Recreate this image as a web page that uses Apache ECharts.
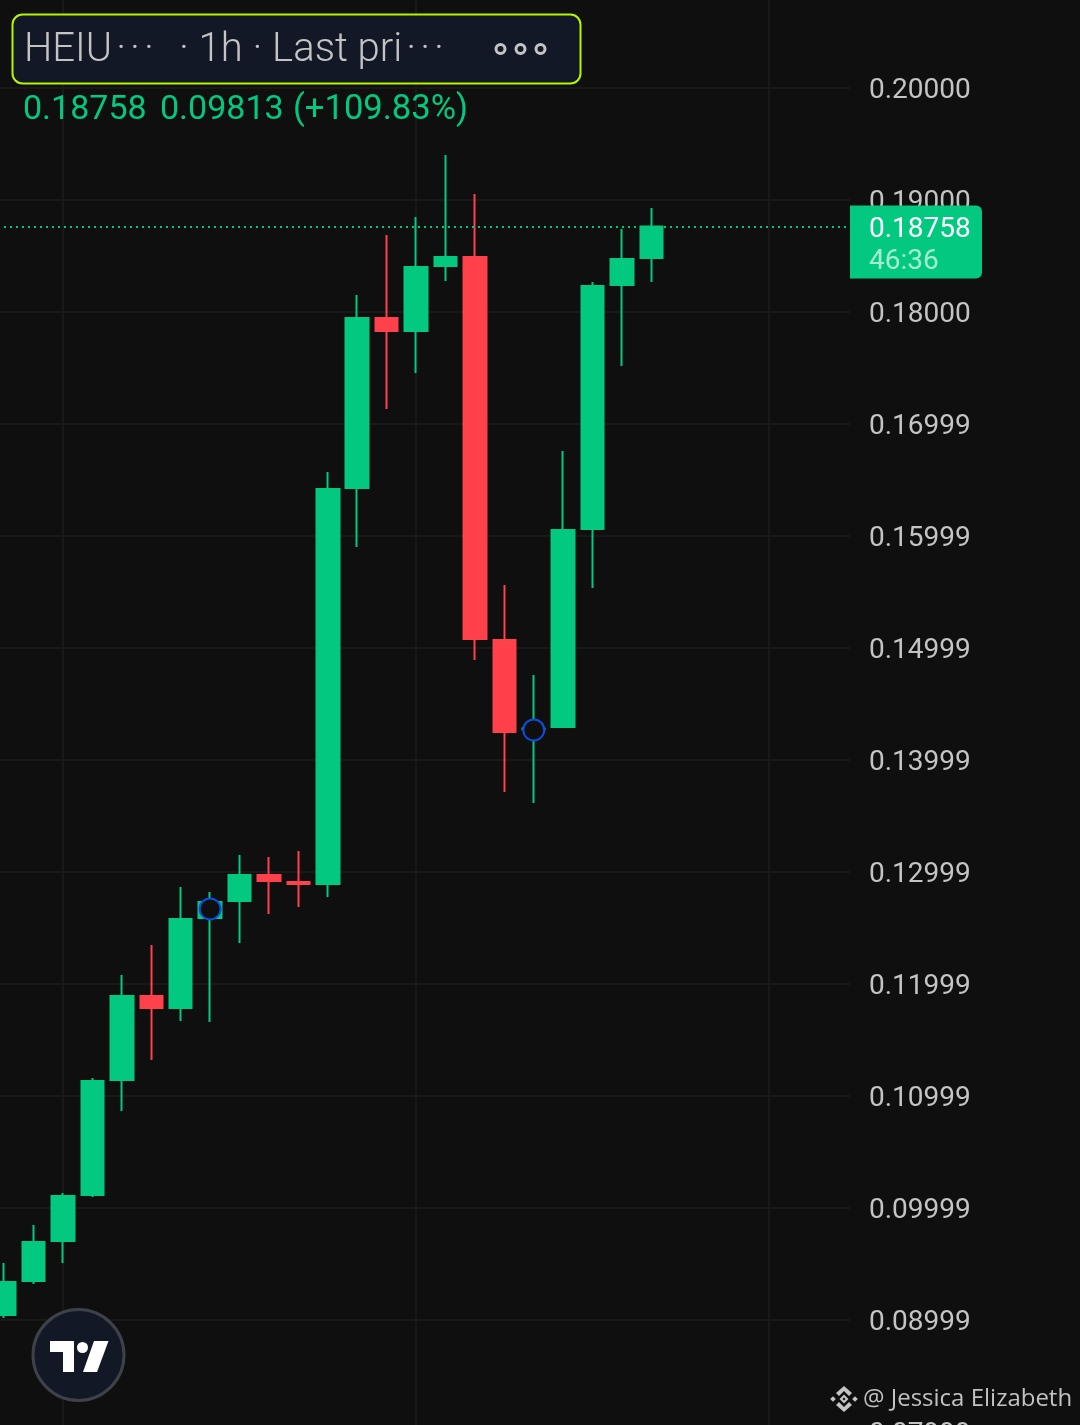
<!DOCTYPE html>
<html>
<head>
<meta charset="utf-8">
<style>html,body{margin:0;padding:0;background:#0f0f0f}#c{width:1080px;height:1425px}</style>
<script src="https://cdn.jsdelivr.net/npm/echarts@6/dist/echarts.min.js"></script>
</head>
<body>
<div id="c"></div>
<script>
const hours = [10,11,12,13,14,15,16,17,18,19,20,21,22,23,24,25,26,27,28,29,30,31,32];
const opens  = [.09040,.09344,.09701,.10112,.11138,.11888,.11781,.12585,.12737,.12969,.12906,.12888,.16424,.17942,.17826,.18406,.18487,.15067,.14269,.14290,.16058,.18237,.18478];
const closes = [.09335,.09692,.10103,.11129,.11888,.11781,.12576,.12728,.12969,.12915,.12888,.16415,.17942,.17826,.18397,.18487,.15076,.14246,.14276,.16049,.18228,.18469,.18758];
const lows   = [.09013,.09317,.09504,.10094,.10862,.11317,.11665,.11656,.12362,.12621,.12683,.12772,.15897,.17129,.17451,.18272,.14888,.13710,.13612,.14281,.15531,.17513,.18263];
const highs  = [.09504,.09844,.10129,.11156,.12076,.12344,.12862,.12817,.13147,.13129,.13183,.16567,.18147,.18683,.18844,.19397,.19049,.15558,.14754,.16754,.18263,.18737,.18924];
const tickValues = [.20,.19,.18,.17,.16,.15,.14,.13,.12,.11,.10,.09,.08];
const tickLabels = ['0.20000','0.19000','0.18000','0.16999','0.15999','0.14999','0.13999','0.12999','0.11999','0.10999','0.09999','0.08999','0.07999'];
const circleHours = [17,28];
const circlePrices = [.12666,.14264];
const lastPrice = 0.18758, countdown = '46:36';
const DOTS='\u200A\u00B7\u200A\u00B7\u200A\u00B7';
const headerTitle = ['HEIU'+DOTS,'\u00B7 1h \u00B7 Last pri'+DOTS];
const headerStats = ['0.18758','0.09813','(+109.83%)'];
const watermark = '@ Jessica Elizabeth';

const UP='#02c97f', DOWN='#ff414c', BG='#0f0f0f', GRID='#191919', TXT='#c4c4c4';
const FONT='Roboto, "Noto Sans", sans-serif';
const chart = echarts.init(document.getElementById('c'), null, {renderer:'canvas'});

function dia(cx,cy,r,fill,z){return {type:'polygon',shape:{points:[[cx,cy-r],[cx+r,cy],[cx,cy+r],[cx-r,cy]]},style:{fill:fill},z:z||20};}

chart.setOption({
  animation:false,
  backgroundColor:BG,
  grid:{left:-290.04,width:1140.04,top:-24.5,height:1568,containLabel:false,outerBoundsMode:'none'},
  xAxis:{type:'value',min:0,max:38.75,interval:12,
    axisLine:{show:false},axisTick:{show:false},axisLabel:{show:false},
    splitLine:{show:true,showMaxLine:false,lineStyle:{color:GRID,width:2}}},
  yAxis:{type:'value',position:'right',min:.07,max:.21,interval:.01,
    axisLine:{show:false},axisTick:{show:false},
    splitLine:{show:true,lineStyle:{color:GRID,width:2}},
    axisLabel:{show:true,margin:19,align:'left',
      showMinLabel:false,showMaxLabel:false,hideOverlap:false,
      rich:{a:{color:TXT,fontFamily:FONT,fontSize:28,lineHeight:34,padding:[6,0,0,0]}},
      formatter:v=>{const i=tickValues.findIndex(t=>Math.abs(t-v)<1e-6);return i>=0?'{a|'+tickLabels[i]+'}':'';}}},
  series:[
    {type:'candlestick',barWidth:23,clip:true,
     encode:{x:0,y:[1,2,3,4]},
     data:hours.map((h,i)=>[h,opens[i],closes[i],lows[i],highs[i]]),
     itemStyle:{color:UP,color0:DOWN,borderColor:UP,borderColor0:DOWN,borderWidth:2},
     markLine:{symbol:'none',silent:true,animation:false,precision:5,
       lineStyle:{color:UP,type:[2,4],width:2},
       label:{show:true,position:'end',distance:0,offset:[0,15.5],align:'left',
         formatter:()=>'{a|'+lastPrice.toFixed(5)+'}\n{b|'+countdown+'}',
         backgroundColor:UP,borderRadius:[0,6,6,0],padding:[8,12,1,19],
         rich:{a:{color:'#ffffff',fontFamily:FONT,fontSize:28,lineHeight:32,width:101},
               b:{color:'#a6ecd1',fontFamily:FONT,fontSize:28,lineHeight:32,width:101}}},
       data:[{yAxis:lastPrice}]}},
    {type:'scatter',symbol:'circle',symbolSize:21,z:10,
     data:circleHours.map((h,i)=>[h,circlePrices[i]]),
     itemStyle:{color:BG,borderColor:'#0a50e0',borderWidth:2,opacity:1}}
  ],
  graphic:[
    {type:'rect',z:20,shape:{x:12.5,y:14.5,width:568,height:69,r:10},style:{fill:'#121826',stroke:'#b6f500',lineWidth:2}},
    {type:'text',z:21,style:{x:24,y:51,text:headerTitle[0],fill:TXT,fontSize:40,fontFamily:FONT,fontWeight:300,textVerticalAlign:'middle'}},
    {type:'text',z:21,style:{x:179,y:51,text:headerTitle[1],fill:TXT,fontSize:40,fontFamily:FONT,fontWeight:300,textVerticalAlign:'middle'}},
    {type:'circle',z:21,shape:{cx:500.5,cy:49,r:4.5},style:{fill:'none',stroke:TXT,lineWidth:3}},
    {type:'circle',z:21,shape:{cx:520.5,cy:49,r:4.5},style:{fill:'none',stroke:TXT,lineWidth:3}},
    {type:'circle',z:21,shape:{cx:540.5,cy:49,r:4.5},style:{fill:'none',stroke:TXT,lineWidth:3}},
    {type:'text',z:21,style:{x:23,y:110,text:headerStats[0],fill:UP,fontSize:34,fontFamily:FONT,fontWeight:400,textVerticalAlign:'middle'}},
    {type:'text',z:21,style:{x:160,y:110,text:headerStats[1],fill:UP,fontSize:34,fontFamily:FONT,fontWeight:400,textVerticalAlign:'middle'}},
    {type:'text',z:21,style:{x:293,y:110,text:headerStats[2],fill:UP,fontSize:34.6,fontFamily:FONT,fontWeight:400,textVerticalAlign:'middle'}},
    {type:'circle',z:21,shape:{cx:78.5,cy:1355,r:45.5},style:{fill:'#121826',stroke:'#3f4149',lineWidth:3}},
    {type:'polygon',z:22,shape:{points:[[50,1341],[74,1341],[74,1372],[63,1372],[63,1352],[50,1352]]},style:{fill:'#fff'}},
    {type:'circle',z:22,shape:{cx:82.5,cy:1347.5,r:5.5},style:{fill:'#fff'}},
    {type:'polygon',z:22,shape:{points:[[94,1341],[108.5,1341],[97,1372],[83,1372]]},style:{fill:'#fff'}},
    {type:'polygon',z:20,shape:{points:[[844,1386],[852,1393],[849,1396],[844,1391],[839,1396],[836,1393]]},style:{fill:TXT}},
    {type:'polygon',z:20,shape:{points:[[844,1412],[852,1405],[849,1402],[844,1407],[839,1402],[836,1405]]},style:{fill:TXT}},
    dia(844,1399,4.5,TXT),dia(844,1399,1.5,BG,21),dia(833,1399,2.8,TXT),dia(855,1399,2.8,TXT),
    {type:'text',z:21,style:{x:863,y:1399,text:watermark,fill:'#c2c2c2',font:'24px "Open Sans", sans-serif',textVerticalAlign:'middle'}}
  ]
});
</script>
</body>
</html>
